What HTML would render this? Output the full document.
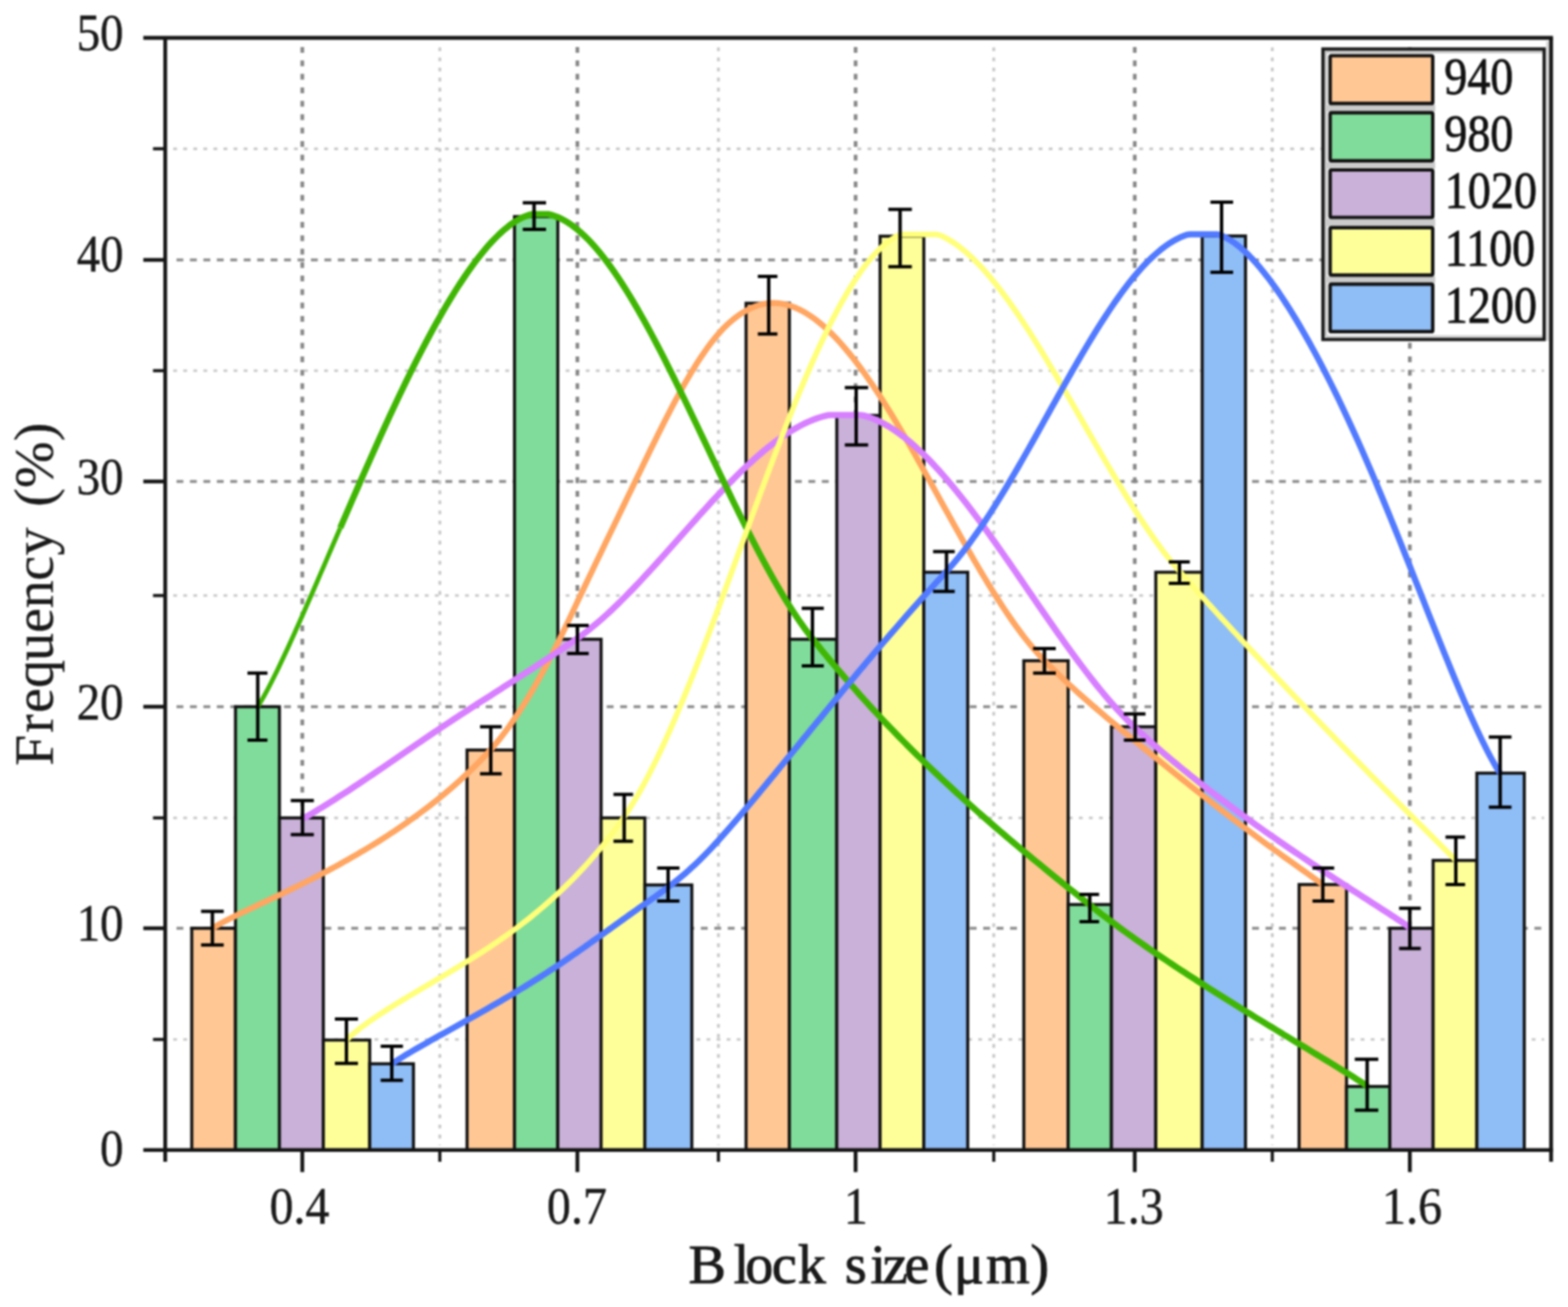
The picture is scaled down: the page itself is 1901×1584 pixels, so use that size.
<!DOCTYPE html>
<html lang="en">
<head>
<meta charset="utf-8">
<title>Block size frequency chart</title>
<style>
html,body{margin:0;padding:0;background:#fff;}
body{width:1901px;height:1584px;}
svg{display:block;}
</style>
</head>
<body>
<svg width="1901" height="1584" viewBox="0 0 1901 1584">
<defs><filter id="soft" x="0" y="0" width="1901" height="1584" filterUnits="userSpaceOnUse" color-interpolation-filters="sRGB"><feGaussianBlur stdDeviation="0.9"/></filter></defs>
<g filter="url(#soft)">
<rect x="-10" y="-10" width="1921" height="1604" fill="#fff"/>
<g fill="none">
<line x1="210" y1="1259.75" x2="1872" y2="1259.75" stroke="#c8c8c8" stroke-width="3.2" stroke-dasharray="4.6 7.6"/>
<line x1="210" y1="991.25" x2="1872" y2="991.25" stroke="#c8c8c8" stroke-width="3.2" stroke-dasharray="4.6 7.6"/>
<line x1="210" y1="721.75" x2="1872" y2="721.75" stroke="#c8c8c8" stroke-width="3.2" stroke-dasharray="4.6 7.6"/>
<line x1="210" y1="449.25" x2="1872" y2="449.25" stroke="#c8c8c8" stroke-width="3.2" stroke-dasharray="4.6 7.6"/>
<line x1="210" y1="180.3" x2="1872" y2="180.3" stroke="#c8c8c8" stroke-width="3.2" stroke-dasharray="4.6 7.6"/>
<line x1="533.25" y1="57.5" x2="533.25" y2="1388" stroke="#c8c8c8" stroke-width="3.4" stroke-dasharray="4.6 7.6"/>
<line x1="871" y1="57.5" x2="871" y2="1388" stroke="#c8c8c8" stroke-width="3.4" stroke-dasharray="4.6 7.6"/>
<line x1="1204.8" y1="57.5" x2="1204.8" y2="1388" stroke="#c8c8c8" stroke-width="3.4" stroke-dasharray="4.6 7.6"/>
<line x1="1542.5" y1="57.5" x2="1542.5" y2="1388" stroke="#c8c8c8" stroke-width="3.4" stroke-dasharray="4.6 7.6"/>
<line x1="214" y1="1125" x2="1872" y2="1125" stroke="#8c8c8c" stroke-width="3.3" stroke-dasharray="8.3 8"/>
<line x1="214" y1="856.5" x2="1872" y2="856.5" stroke="#8c8c8c" stroke-width="3.3" stroke-dasharray="8.3 8"/>
<line x1="214" y1="583.5" x2="1872" y2="583.5" stroke="#8c8c8c" stroke-width="3.3" stroke-dasharray="8.3 8"/>
<line x1="214" y1="315" x2="1872" y2="315" stroke="#8c8c8c" stroke-width="3.3" stroke-dasharray="8.3 8"/>
<line x1="366.5" y1="57" x2="366.5" y2="1388" stroke="#868686" stroke-width="4.4" stroke-dasharray="7 9.3"/>
<line x1="700" y1="57" x2="700" y2="1388" stroke="#868686" stroke-width="4.4" stroke-dasharray="7 9.3"/>
<line x1="1037.3" y1="57" x2="1037.3" y2="1388" stroke="#868686" stroke-width="4.4" stroke-dasharray="7 9.3"/>
<line x1="1375.75" y1="57" x2="1375.75" y2="1388" stroke="#868686" stroke-width="4.4" stroke-dasharray="7 9.3"/>
<line x1="1709.25" y1="57" x2="1709.25" y2="1388" stroke="#868686" stroke-width="4.4" stroke-dasharray="7 9.3"/>
</g>
<g stroke="#111" stroke-width="3.7" stroke-linejoin="miter">
<rect x="232.5" y="1125" width="53.00" height="268.75" fill="#FFC794"/>
<rect x="285.5" y="856.5" width="53.25" height="537.25" fill="#80DC9A"/>
<rect x="338.75" y="991.25" width="53.25" height="402.50" fill="#C9B1D9"/>
<rect x="392" y="1260.5" width="56.25" height="133.25" fill="#FFFF99"/>
<rect x="448.25" y="1289.25" width="53.00" height="104.50" fill="#8FBDF6"/>
<rect x="566.25" y="909" width="57.50" height="484.75" fill="#FFC794"/>
<rect x="623.75" y="262.5" width="52.50" height="1131.25" fill="#80DC9A"/>
<rect x="676.25" y="774.75" width="52.50" height="619.00" fill="#C9B1D9"/>
<rect x="728.75" y="991.25" width="53.00" height="402.50" fill="#FFFF99"/>
<rect x="781.75" y="1072.5" width="57.00" height="321.25" fill="#8FBDF6"/>
<rect x="904.5" y="367.5" width="52.50" height="1026.25" fill="#FFC794"/>
<rect x="957" y="774.75" width="57.50" height="619.00" fill="#80DC9A"/>
<rect x="1014.5" y="503.5" width="52.50" height="890.25" fill="#C9B1D9"/>
<rect x="1067" y="286.25" width="53.00" height="1107.50" fill="#FFFF99"/>
<rect x="1120" y="693.5" width="53.25" height="700.25" fill="#8FBDF6"/>
<rect x="1241.25" y="800.75" width="53.75" height="593.00" fill="#FFC794"/>
<rect x="1295" y="1096.25" width="52.50" height="297.50" fill="#80DC9A"/>
<rect x="1347.5" y="880.75" width="53.75" height="513.00" fill="#C9B1D9"/>
<rect x="1401.25" y="693.5" width="56.25" height="700.25" fill="#FFFF99"/>
<rect x="1457.5" y="286" width="52.50" height="1107.75" fill="#8FBDF6"/>
<rect x="1575" y="1072" width="57.50" height="321.75" fill="#FFC794"/>
<rect x="1632.5" y="1316.75" width="52.50" height="77.00" fill="#80DC9A"/>
<rect x="1685" y="1125" width="52.50" height="268.75" fill="#C9B1D9"/>
<rect x="1737.5" y="1042.75" width="53.00" height="351.00" fill="#FFFF99"/>
<rect x="1790.5" y="937" width="57.50" height="456.75" fill="#8FBDF6"/>
</g>
<g fill="none" stroke-linejoin="round" stroke-linecap="butt">
<path d="M257.5,1125.0 L261.5,1122.6 L265.5,1120.3 L269.5,1118.1 L273.5,1116.0 L277.5,1114.0 L281.5,1111.9 L285.5,1110.0 L289.5,1108.0 L293.5,1106.1 L297.5,1104.2 L301.5,1102.3 L305.5,1100.4 L309.5,1098.5 L313.5,1096.6 L317.5,1094.7 L321.5,1092.9 L325.5,1091.0 L329.5,1089.1 L333.5,1087.2 L337.5,1085.3 L341.5,1083.4 L345.5,1081.4 L349.5,1079.5 L353.5,1077.5 L357.5,1075.6 L361.5,1073.6 L365.5,1071.6 L369.5,1069.6 L373.5,1067.6 L377.5,1065.6 L381.5,1063.5 L385.5,1061.5 L389.5,1059.4 L393.5,1057.3 L397.5,1055.2 L401.5,1053.0 L405.5,1050.8 L409.5,1048.7 L413.5,1046.5 L417.5,1044.2 L421.5,1042.0 L425.5,1039.7 L429.5,1037.4 L433.5,1035.1 L437.5,1032.7 L441.5,1030.4 L445.5,1028.0 L449.5,1025.5 L453.5,1023.1 L457.5,1020.6 L461.5,1018.1 L465.5,1015.5 L469.5,1012.9 L473.5,1010.3 L477.5,1007.7 L481.5,1005.0 L485.5,1002.3 L489.5,999.5 L493.5,996.7 L497.5,993.9 L501.5,991.0 L505.5,988.1 L509.5,985.2 L513.5,982.2 L517.5,979.2 L521.5,976.1 L525.5,972.9 L529.5,969.8 L533.5,966.5 L537.5,963.2 L541.5,959.9 L545.5,956.5 L549.5,953.0 L553.5,949.5 L557.5,945.9 L561.5,942.2 L565.5,938.5 L569.5,934.7 L573.5,930.8 L577.5,926.8 L581.5,922.8 L585.5,918.6 L589.5,914.4 L593.5,910.0 L597.5,905.5 L601.5,900.9 L605.5,896.0 L609.5,890.9 L613.5,885.6 L617.5,880.1 L621.5,874.4 L625.5,868.5 L629.5,862.5 L633.5,856.3 L637.5,849.9 L641.5,843.3 L645.5,836.6 L649.5,829.7 L653.5,822.6 L657.5,815.4 L661.5,808.0 L665.5,800.4 L669.5,792.6 L673.5,784.7 L677.5,776.6 L681.5,768.4 L685.5,760.1 L689.5,751.7 L693.5,743.2 L697.5,734.8 L701.5,726.3 L705.5,717.9 L709.5,709.4 L713.5,701.0 L717.5,692.7 L721.5,684.3 L725.5,676.0 L729.5,667.7 L733.5,659.3 L737.5,651.0 L741.5,642.7 L745.5,634.5 L749.5,626.2 L753.5,617.9 L757.5,609.6 L761.5,601.3 L765.5,593.1 L769.5,584.8 L773.5,576.5 L777.5,568.2 L781.5,559.9 L785.5,551.6 L789.5,543.4 L793.5,535.3 L797.5,527.2 L801.5,519.1 L805.5,511.2 L809.5,503.4 L813.5,495.6 L817.5,488.0 L821.5,480.6 L825.5,473.3 L829.5,466.1 L833.5,459.2 L837.5,452.4 L841.5,445.8 L845.5,439.4 L849.5,433.3 L853.5,427.4 L857.5,421.7 L861.5,416.3 L865.5,411.2 L869.5,406.3 L873.5,401.8 L877.5,397.5 L881.5,393.6 L885.5,390.0 L889.5,386.7 L893.5,383.6 L897.5,380.8 L901.5,378.3 L905.5,376.0 L909.5,374.0 L913.5,372.2 L917.5,370.7 L921.5,369.4 L925.5,368.5 L929.5,367.8 L933.5,367.3 L937.5,367.2 L941.5,367.3 L945.5,367.7 L949.5,368.4 L953.5,369.3 L957.5,370.4 L961.5,371.8 L965.5,373.4 L969.5,375.3 L973.5,377.4 L977.5,379.7 L981.5,382.2 L985.5,384.9 L989.5,387.9 L993.5,391.1 L997.5,394.4 L1001.5,398.0 L1005.5,401.8 L1009.5,405.7 L1013.5,409.8 L1017.5,414.1 L1021.5,418.6 L1025.5,423.3 L1029.5,428.1 L1033.5,433.1 L1037.5,438.2 L1041.5,443.5 L1045.5,448.9 L1049.5,454.5 L1053.5,460.2 L1057.5,466.0 L1061.5,472.0 L1065.5,478.1 L1069.5,484.3 L1073.5,490.6 L1077.5,497.0 L1081.5,503.5 L1085.5,510.1 L1089.5,516.8 L1093.5,523.6 L1097.5,530.4 L1101.5,537.3 L1105.5,544.3 L1109.5,551.3 L1113.5,558.4 L1117.5,565.5 L1121.5,572.7 L1125.5,579.8 L1129.5,587.0 L1133.5,594.2 L1137.5,601.5 L1141.5,608.7 L1145.5,615.9 L1149.5,623.1 L1153.5,630.3 L1157.5,637.5 L1161.5,644.6 L1165.5,651.7 L1169.5,658.8 L1173.5,665.8 L1177.5,672.8 L1181.5,679.7 L1185.5,686.5 L1189.5,693.3 L1193.5,700.0 L1197.5,706.6 L1201.5,713.1 L1205.5,719.5 L1209.5,725.8 L1213.5,732.0 L1217.5,738.1 L1221.5,744.1 L1225.5,749.9 L1229.5,755.6 L1233.5,761.1 L1237.5,766.5 L1241.5,771.8 L1245.5,776.9 L1249.5,781.8 L1253.5,786.6 L1257.5,791.2 L1261.5,795.6 L1265.5,799.8 L1269.5,803.9 L1273.5,807.9 L1277.5,811.8 L1281.5,815.7 L1285.5,819.5 L1289.5,823.3 L1293.5,827.1 L1297.5,830.8 L1301.5,834.4 L1305.5,838.1 L1309.5,841.7 L1313.5,845.2 L1317.5,848.7 L1321.5,852.2 L1325.5,855.7 L1329.5,859.2 L1333.5,862.6 L1337.5,866.0 L1341.5,869.4 L1345.5,872.7 L1349.5,876.1 L1353.5,879.4 L1357.5,882.8 L1361.5,886.1 L1365.5,889.4 L1369.5,892.7 L1373.5,896.0 L1377.5,899.2 L1381.5,902.5 L1385.5,905.8 L1389.5,909.1 L1393.5,912.3 L1397.5,915.6 L1401.5,918.8 L1405.5,922.1 L1409.5,925.3 L1413.5,928.5 L1417.5,931.8 L1421.5,935.0 L1425.5,938.2 L1429.5,941.4 L1433.5,944.6 L1437.5,947.8 L1441.5,951.0 L1445.5,954.2 L1449.5,957.3 L1453.5,960.5 L1457.5,963.7 L1461.5,966.8 L1465.5,969.9 L1469.5,973.1 L1473.5,976.2 L1477.5,979.3 L1481.5,982.4 L1485.5,985.5 L1489.5,988.5 L1493.5,991.6 L1497.5,994.6 L1501.5,997.7 L1505.5,1000.7 L1509.5,1003.7 L1513.5,1006.7 L1517.5,1009.7 L1521.5,1012.7 L1525.5,1015.7 L1529.5,1018.6 L1533.5,1021.6 L1537.5,1024.5 L1541.5,1027.4 L1545.5,1030.3 L1549.5,1033.2 L1553.5,1036.1 L1557.5,1039.0 L1561.5,1041.8 L1565.5,1044.7 L1569.5,1047.5 L1573.5,1050.4 L1577.5,1053.2 L1581.5,1056.0 L1585.5,1058.9 L1589.5,1061.7 L1593.5,1064.6 L1597.5,1067.5 L1601.5,1070.4 L1603.8,1072.0" stroke="#FFA662" stroke-width="7.2"/>
<path d="M366.8,991.2 L370.8,990.2 L374.8,987.9 L378.8,985.5 L382.8,983.1 L386.8,980.6 L390.8,978.2 L394.8,975.7 L398.8,973.2 L402.8,970.7 L406.8,968.2 L410.8,965.6 L414.8,963.1 L418.8,960.5 L422.8,957.9 L426.8,955.2 L430.8,952.6 L434.8,950.0 L438.8,947.3 L442.8,944.6 L446.8,941.9 L450.8,939.2 L454.8,936.5 L458.8,933.8 L462.8,931.1 L466.8,928.3 L470.8,925.6 L474.8,922.9 L478.8,920.1 L482.8,917.4 L486.8,914.6 L490.8,911.9 L494.8,909.1 L498.8,906.4 L502.8,903.6 L506.8,900.9 L510.8,898.2 L514.8,895.4 L518.8,892.7 L522.8,890.0 L526.8,887.3 L530.8,884.6 L534.8,881.9 L538.8,879.3 L542.8,876.6 L546.8,874.0 L550.8,871.3 L554.8,868.7 L558.8,866.1 L562.8,863.5 L566.8,860.9 L570.8,858.3 L574.8,855.7 L578.8,853.1 L582.8,850.6 L586.8,848.0 L590.8,845.4 L594.8,842.9 L598.8,840.3 L602.8,837.7 L606.8,835.2 L610.8,832.6 L614.8,830.0 L618.8,827.5 L622.8,824.9 L626.8,822.3 L630.8,819.8 L634.8,817.2 L638.8,814.6 L642.8,812.0 L646.8,809.4 L650.8,806.8 L654.8,804.2 L658.8,801.6 L662.8,798.9 L666.8,796.3 L670.8,793.6 L674.8,790.9 L678.8,788.2 L682.8,785.5 L686.8,782.8 L690.8,780.1 L694.8,777.3 L698.8,774.5 L702.8,771.7 L706.8,768.8 L710.8,765.7 L714.8,762.6 L718.8,759.3 L722.8,756.0 L726.8,752.6 L730.8,749.1 L734.8,745.5 L738.8,741.8 L742.8,738.1 L746.8,734.2 L750.8,730.4 L754.8,726.4 L758.8,722.4 L762.8,718.3 L766.8,714.2 L770.8,710.0 L774.8,705.8 L778.8,701.5 L782.8,697.2 L786.8,692.9 L790.8,688.5 L794.8,684.1 L798.8,679.7 L802.8,675.2 L806.8,670.7 L810.8,666.2 L814.8,661.7 L818.8,657.2 L822.8,652.7 L826.8,648.2 L830.8,643.7 L834.8,639.2 L838.8,634.7 L842.8,630.3 L846.8,625.8 L850.8,621.4 L854.8,617.0 L858.8,612.6 L862.8,608.2 L866.8,603.9 L870.8,599.7 L874.8,595.4 L878.8,591.2 L882.8,587.1 L886.8,583.0 L890.8,579.0 L894.8,575.0 L898.8,571.1 L902.8,567.3 L906.8,563.5 L910.8,559.8 L914.8,556.2 L918.8,552.6 L922.8,549.2 L926.8,545.8 L930.8,542.6 L934.8,539.4 L938.8,536.3 L942.8,533.3 L946.8,530.5 L950.8,527.7 L954.8,525.0 L958.8,522.5 L962.8,520.1 L966.8,517.8 L970.8,515.7 L974.8,513.6 L978.8,511.7 L982.8,510.0 L986.8,508.4 L990.8,506.9 L994.8,505.6 L998.8,504.4 L1002.8,503.4 L1006.8,503.0 L1010.8,503.0 L1014.8,503.0 L1018.8,503.0 L1022.8,503.0 L1026.8,503.0 L1030.8,503.0 L1034.8,503.0 L1038.8,503.0 L1042.8,503.0 L1046.8,503.5 L1050.8,504.7 L1054.8,506.0 L1058.8,507.5 L1062.8,509.2 L1066.8,511.1 L1070.8,513.1 L1074.8,515.4 L1078.8,517.7 L1082.8,520.3 L1086.8,523.0 L1090.8,525.8 L1094.8,528.8 L1098.8,532.0 L1102.8,535.3 L1106.8,538.7 L1110.8,542.3 L1114.8,546.0 L1118.8,549.8 L1122.8,553.7 L1126.8,557.8 L1130.8,562.0 L1134.8,566.3 L1138.8,570.7 L1142.8,575.2 L1146.8,579.7 L1150.8,584.4 L1154.8,589.2 L1158.8,594.1 L1162.8,599.1 L1166.8,604.1 L1170.8,609.2 L1174.8,614.4 L1178.8,619.6 L1182.8,625.0 L1186.8,630.3 L1190.8,635.8 L1194.8,641.3 L1198.8,646.8 L1202.8,652.4 L1206.8,658.0 L1210.8,663.7 L1214.8,669.4 L1218.8,675.1 L1222.8,680.8 L1226.8,686.6 L1230.8,692.4 L1234.8,698.2 L1238.8,704.0 L1242.8,709.9 L1246.8,715.7 L1250.8,721.5 L1254.8,727.4 L1258.8,733.2 L1262.8,739.0 L1266.8,744.8 L1270.8,750.5 L1274.8,756.3 L1278.8,762.0 L1282.8,767.7 L1286.8,773.3 L1290.8,778.9 L1294.8,784.5 L1298.8,790.0 L1302.8,795.5 L1306.8,800.9 L1310.8,806.2 L1314.8,811.5 L1318.8,816.8 L1322.8,821.9 L1326.8,827.0 L1330.8,832.0 L1334.8,836.9 L1338.8,841.7 L1342.8,846.5 L1346.8,851.1 L1350.8,855.6 L1354.8,860.1 L1358.8,864.4 L1362.8,868.6 L1366.8,872.7 L1370.8,876.7 L1374.8,880.6 L1378.8,884.3 L1382.8,888.0 L1386.8,891.7 L1390.8,895.3 L1394.8,898.9 L1398.8,902.4 L1402.8,905.9 L1406.8,909.4 L1410.8,912.9 L1414.8,916.3 L1418.8,919.6 L1422.8,923.0 L1426.8,926.3 L1430.8,929.6 L1434.8,932.9 L1438.8,936.1 L1442.8,939.4 L1446.8,942.6 L1450.8,945.7 L1454.8,948.9 L1458.8,952.0 L1462.8,955.1 L1466.8,958.2 L1470.8,961.3 L1474.8,964.4 L1478.8,967.4 L1482.8,970.4 L1486.8,973.4 L1490.8,976.4 L1494.8,979.4 L1498.8,982.3 L1502.8,985.3 L1506.8,988.2 L1510.8,991.1 L1514.8,994.0 L1518.8,996.9 L1522.8,999.8 L1526.8,1002.6 L1530.8,1005.5 L1534.8,1008.3 L1538.8,1011.1 L1542.8,1013.9 L1546.8,1016.7 L1550.8,1019.5 L1554.8,1022.2 L1558.8,1025.0 L1562.8,1027.7 L1566.8,1030.5 L1570.8,1033.2 L1574.8,1035.9 L1578.8,1038.6 L1582.8,1041.3 L1586.8,1044.0 L1590.8,1046.7 L1594.8,1049.3 L1598.8,1052.0 L1602.8,1054.6 L1606.8,1057.3 L1610.8,1059.9 L1614.8,1062.5 L1618.8,1065.2 L1622.8,1067.8 L1626.8,1070.4 L1630.8,1073.0 L1634.8,1075.6 L1638.8,1078.2 L1642.8,1080.8 L1646.8,1083.3 L1650.8,1085.9 L1654.8,1088.5 L1658.8,1091.1 L1662.8,1093.7 L1666.8,1096.2 L1670.8,1098.8 L1674.8,1101.4 L1678.8,1104.0 L1682.8,1106.6 L1686.8,1109.2 L1690.8,1111.8 L1694.8,1114.5 L1698.8,1117.1 L1702.8,1119.8 L1706.8,1122.6 L1709.2,1125.0" stroke="#D77FFF" stroke-width="7.7"/>
<path d="M312.5,856.5 L316.5,849.9 L320.5,842.9 L324.5,835.5 L328.5,827.8 L332.5,819.8 L336.5,811.7 L340.5,803.3 L344.5,794.8 L348.5,786.2 L352.5,777.4 L356.5,768.6 L360.5,759.6 L364.5,750.6 L368.5,741.6 L372.5,732.4 L376.5,723.3 L380.5,714.1 L384.5,704.8 L388.5,695.5 L392.5,686.3 L396.5,677.0 L400.5,667.7 L404.5,658.4 L408.5,649.1 L412.5,639.8" stroke="#40B604" stroke-width="5.6"/>
<path d="M412.5,639.8 L416.5,630.5 L420.5,621.2 L424.5,612.0 L428.5,602.8 L432.5,593.6 L436.5,584.4 L440.5,575.3 L444.5,566.2 L448.5,557.2 L452.5,548.2 L456.5,539.3 L460.5,530.4 L464.5,521.6 L468.5,512.9 L472.5,504.2 L476.5,495.6 L480.5,487.1 L484.5,478.7 L488.5,470.3 L492.5,462.0 L496.5,453.9 L500.5,445.8 L504.5,437.8 L508.5,430.0 L512.5,422.2 L516.5,414.6 L520.5,407.1 L524.5,399.7 L528.5,392.4 L532.5,385.3 L536.5,378.3 L540.5,371.4 L544.5,364.7 L548.5,358.2 L552.5,351.8 L556.5,345.5 L560.5,339.5 L564.5,333.5 L568.5,327.8 L572.5,322.2 L576.5,316.8 L580.5,311.6 L584.5,306.6 L588.5,301.8 L592.5,297.1 L596.5,292.7 L600.5,288.6 L604.5,284.6 L608.5,280.9 L612.5,277.4 L616.5,274.2 L620.5,271.2 L624.5,268.5 L628.5,266.1 L632.5,264.0 L636.5,262.3 L640.5,260.8 L644.5,259.7 L648.5,259.5 L652.5,259.5 L656.5,259.5 L660.5,259.5 L664.5,259.5 L668.5,260.5 L672.5,261.8 L676.5,263.3 L680.5,265.2 L684.5,267.3 L688.5,269.7 L692.5,272.4 L696.5,275.4 L700.5,278.6 L704.5,282.1 L708.5,285.8 L712.5,289.7 L716.5,293.9 L720.5,298.3 L724.5,303.0 L728.5,307.8 L732.5,312.9 L736.5,318.2 L740.5,323.6 L744.5,329.3 L748.5,335.1 L752.5,341.2 L756.5,347.4 L760.5,353.7 L764.5,360.3 L768.5,367.0 L772.5,373.8 L776.5,380.8 L780.5,387.9 L784.5,395.2 L788.5,402.5 L792.5,410.0 L796.5,417.6 L800.5,425.3 L804.5,433.1 L808.5,441.0 L812.5,448.9 L816.5,457.0 L820.5,465.1 L824.5,473.2 L828.5,481.4 L832.5,489.7 L836.5,498.0 L840.5,506.4 L844.5,514.7 L848.5,523.1 L852.5,531.5 L856.5,539.9 L860.5,548.4 L864.5,556.8 L868.5,565.2 L872.5,573.6 L876.5,581.9 L880.5,590.2 L884.5,598.5 L888.5,606.8 L892.5,614.9 L896.5,623.1 L900.5,631.1 L904.5,639.1 L908.5,647.0 L912.5,654.8 L916.5,662.6 L920.5,670.2 L924.5,677.7 L928.5,685.1 L932.5,692.4 L936.5,699.6 L940.5,706.6 L944.5,713.5 L948.5,720.3 L952.5,726.9 L956.5,733.3 L960.5,739.6 L964.5,745.7 L968.5,751.6 L972.5,757.3 L976.5,762.9 L980.5,768.2 L984.5,773.4 L988.5,778.4 L992.5,783.3 L996.5,788.3 L1000.5,793.1 L1004.5,798.0 L1008.5,802.8 L1012.5,807.5 L1016.5,812.3 L1020.5,816.9 L1024.5,821.6 L1028.5,826.2 L1032.5,830.8 L1036.5,835.3 L1040.5,839.9 L1044.5,844.3 L1048.5,848.8 L1052.5,853.2 L1056.5,857.6 L1060.5,861.9 L1064.5,866.2 L1068.5,870.5 L1072.5,874.8 L1076.5,879.0 L1080.5,883.2 L1084.5,887.3 L1088.5,891.5 L1092.5,895.6 L1096.5,899.6 L1100.5,903.7 L1104.5,907.7 L1108.5,911.7 L1112.5,915.7 L1116.5,919.6 L1120.5,923.5 L1124.5,927.4 L1128.5,931.3 L1132.5,935.1 L1136.5,938.9 L1140.5,942.7 L1144.5,946.5 L1148.5,950.2 L1152.5,953.9 L1156.5,957.6 L1160.5,961.3 L1164.5,965.0 L1168.5,968.6 L1172.5,972.2 L1176.5,975.8 L1180.5,979.4 L1184.5,983.0 L1188.5,986.5 L1192.5,990.0 L1196.5,993.5 L1200.5,997.0 L1204.5,1000.5 L1208.5,1004.0 L1212.5,1007.4 L1216.5,1010.8 L1220.5,1014.2 L1224.5,1017.6 L1228.5,1021.0 L1232.5,1024.4 L1236.5,1027.7 L1240.5,1031.1 L1244.5,1034.4 L1248.5,1037.7 L1252.5,1041.1 L1256.5,1044.4 L1260.5,1047.6 L1264.5,1050.9 L1268.5,1054.2 L1272.5,1057.5 L1276.5,1060.7 L1280.5,1064.0 L1284.5,1067.2 L1288.5,1070.4 L1292.5,1073.7 L1296.5,1076.9 L1300.5,1080.1 L1304.5,1083.3 L1308.5,1086.5 L1312.5,1089.7 L1316.5,1092.9 L1320.5,1096.1 L1324.5,1099.3 L1328.5,1102.5 L1332.5,1105.6 L1336.5,1108.7 L1340.5,1111.7 L1344.5,1114.7 L1348.5,1117.7 L1352.5,1120.7 L1356.5,1123.7 L1360.5,1126.6 L1364.5,1129.5 L1368.5,1132.4 L1372.5,1135.2 L1376.5,1138.1 L1380.5,1140.9 L1384.5,1143.7 L1388.5,1146.5 L1392.5,1149.3 L1396.5,1152.0 L1400.5,1154.8 L1404.5,1157.5 L1408.5,1160.2 L1412.5,1162.9 L1416.5,1165.6 L1420.5,1168.3 L1424.5,1170.9 L1428.5,1173.6 L1432.5,1176.2 L1436.5,1178.8 L1440.5,1181.4 L1444.5,1184.0 L1448.5,1186.6 L1452.5,1189.2 L1456.5,1191.8 L1460.5,1194.3 L1464.5,1196.9 L1468.5,1199.4 L1472.5,1202.0 L1476.5,1204.5 L1480.5,1207.0 L1484.5,1209.6 L1488.5,1212.1 L1492.5,1214.6 L1496.5,1217.1 L1500.5,1219.5 L1504.5,1222.0 L1508.5,1224.5 L1512.5,1227.0 L1516.5,1229.4 L1520.5,1231.9 L1524.5,1234.4 L1528.5,1236.8 L1532.5,1239.3 L1536.5,1241.7 L1540.5,1244.1 L1544.5,1246.6 L1548.5,1249.0 L1552.5,1251.4 L1556.5,1253.9 L1560.5,1256.3 L1564.5,1258.7 L1568.5,1261.2 L1572.5,1263.6 L1576.5,1266.0 L1580.5,1268.4 L1584.5,1270.8 L1588.5,1273.3 L1592.5,1275.7 L1596.5,1278.1 L1600.5,1280.5 L1604.5,1283.0 L1608.5,1285.4 L1612.5,1287.8 L1616.5,1290.3 L1620.5,1292.7 L1624.5,1295.2 L1628.5,1297.7 L1632.5,1300.1 L1636.5,1302.6 L1640.5,1305.1 L1644.5,1307.7 L1648.5,1310.2 L1652.5,1312.8 L1656.5,1315.4 L1657.5,1316.8" stroke="#40B604" stroke-width="7.7"/>
<path d="M420.0,1260.5 L424.0,1256.5 L428.0,1253.1 L432.0,1249.8 L436.0,1246.6 L440.0,1243.6 L444.0,1240.7 L448.0,1237.8 L452.0,1235.1 L456.0,1232.3 L460.0,1229.7 L464.0,1227.0 L468.0,1224.5 L472.0,1221.9 L476.0,1219.4 L480.0,1216.9 L484.0,1214.5 L488.0,1212.0 L492.0,1209.6 L496.0,1207.2 L500.0,1204.8 L504.0,1202.5 L508.0,1200.1 L512.0,1197.7 L516.0,1195.4 L520.0,1193.0 L524.0,1190.6 L528.0,1188.3 L532.0,1185.9 L536.0,1183.6 L540.0,1181.2 L544.0,1178.8 L548.0,1176.4 L552.0,1174.0 L556.0,1171.6 L560.0,1169.1 L564.0,1166.7 L568.0,1164.2 L572.0,1161.7 L576.0,1159.2 L580.0,1156.6 L584.0,1154.1 L588.0,1151.4 L592.0,1148.8 L596.0,1146.1 L600.0,1143.4 L604.0,1140.7 L608.0,1137.9 L612.0,1135.1 L616.0,1132.3 L620.0,1129.4 L624.0,1126.4 L628.0,1123.4 L632.0,1120.4 L636.0,1117.3 L640.0,1114.2 L644.0,1111.0 L648.0,1107.7 L652.0,1104.4 L656.0,1101.0 L660.0,1097.6 L664.0,1094.1 L668.0,1090.6 L672.0,1086.9 L676.0,1083.3 L680.0,1079.5 L684.0,1075.7 L688.0,1071.8 L692.0,1067.8 L696.0,1063.8 L700.0,1059.6 L704.0,1055.4 L708.0,1051.1 L712.0,1046.7 L716.0,1042.2 L720.0,1037.6 L724.0,1032.9 L728.0,1028.1 L732.0,1023.2 L736.0,1018.2 L740.0,1013.0 L744.0,1007.7 L748.0,1002.3 L752.0,996.7 L756.0,991.0 L760.0,985.1 L764.0,978.9 L768.0,972.4 L772.0,965.7 L776.0,958.7 L780.0,951.5 L784.0,944.0 L788.0,936.3 L792.0,928.3 L796.0,920.2 L800.0,911.8 L804.0,903.2 L808.0,894.4 L812.0,885.5 L816.0,876.3 L820.0,867.0 L824.0,857.5 L828.0,847.9 L832.0,838.1 L836.0,828.2 L840.0,818.2 L844.0,808.0 L848.0,797.8 L852.0,787.4 L856.0,776.9 L860.0,766.4 L864.0,755.7 L868.0,745.0 L872.0,734.2 L876.0,723.4 L880.0,712.5 L884.0,701.6 L888.0,690.7 L892.0,679.7 L896.0,668.7 L900.0,657.8 L904.0,646.8 L908.0,635.8 L912.0,624.9 L916.0,614.0 L920.0,603.1 L924.0,592.3 L928.0,581.5 L932.0,570.8 L936.0,560.1 L940.0,549.6 L944.0,539.1 L948.0,528.7 L952.0,518.4 L956.0,508.3 L960.0,498.2 L964.0,488.3 L968.0,478.5 L972.0,468.9 L976.0,459.4 L980.0,450.1 L984.0,440.9 L988.0,431.9 L992.0,423.1 L996.0,414.5 L1000.0,406.1 L1004.0,397.8 L1008.0,389.8 L1012.0,382.1 L1016.0,374.5 L1020.0,367.2 L1024.0,360.1 L1028.0,353.3 L1032.0,346.7 L1036.0,340.4 L1040.0,334.4 L1044.0,328.6 L1048.0,323.1 L1052.0,318.0 L1056.0,313.1 L1060.0,308.5 L1064.0,304.3 L1068.0,300.3 L1072.0,296.7 L1076.0,293.5 L1080.0,290.6 L1084.0,288.0 L1088.0,285.8 L1092.0,284.2 L1096.0,284.2 L1100.0,284.2 L1104.0,284.2 L1108.0,284.2 L1112.0,284.2 L1116.0,284.2 L1120.0,284.2 L1124.0,284.2 L1128.0,284.2 L1132.0,284.2 L1136.0,284.2 L1140.0,285.2 L1144.0,287.1 L1148.0,289.2 L1152.0,291.5 L1156.0,294.0 L1160.0,296.8 L1164.0,299.8 L1168.0,303.0 L1172.0,306.4 L1176.0,310.0 L1180.0,313.8 L1184.0,317.8 L1188.0,321.9 L1192.0,326.3 L1196.0,330.8 L1200.0,335.4 L1204.0,340.3 L1208.0,345.2 L1212.0,350.4 L1216.0,355.7 L1220.0,361.1 L1224.0,366.6 L1228.0,372.3 L1232.0,378.0 L1236.0,383.9 L1240.0,389.9 L1244.0,396.0 L1248.0,402.2 L1252.0,408.5 L1256.0,414.9 L1260.0,421.4 L1264.0,427.9 L1268.0,434.5 L1272.0,441.2 L1276.0,447.9 L1280.0,454.6 L1284.0,461.5 L1288.0,468.3 L1292.0,475.2 L1296.0,482.1 L1300.0,489.1 L1304.0,496.0 L1308.0,503.0 L1312.0,510.0 L1316.0,517.0 L1320.0,524.0 L1324.0,530.9 L1328.0,537.9 L1332.0,544.8 L1336.0,551.7 L1340.0,558.6 L1344.0,565.4 L1348.0,572.2 L1352.0,579.0 L1356.0,585.7 L1360.0,592.3 L1364.0,598.9 L1368.0,605.4 L1372.0,611.8 L1376.0,618.1 L1380.0,624.3 L1384.0,630.5 L1388.0,636.5 L1392.0,642.5 L1396.0,648.3 L1400.0,654.0 L1404.0,659.6 L1408.0,665.0 L1412.0,670.4 L1416.0,675.5 L1420.0,680.6 L1424.0,685.4 L1428.0,690.1 L1432.0,694.7 L1436.0,699.2 L1440.0,703.7 L1444.0,708.2 L1448.0,712.7 L1452.0,717.2 L1456.0,721.6 L1460.0,726.1 L1464.0,730.5 L1468.0,734.9 L1472.0,739.3 L1476.0,743.7 L1480.0,748.1 L1484.0,752.4 L1488.0,756.8 L1492.0,761.1 L1496.0,765.5 L1500.0,769.8 L1504.0,774.1 L1508.0,778.5 L1512.0,782.8 L1516.0,787.1 L1520.0,791.4 L1524.0,795.6 L1528.0,799.9 L1532.0,804.2 L1536.0,808.4 L1540.0,812.7 L1544.0,816.9 L1548.0,821.2 L1552.0,825.4 L1556.0,829.6 L1560.0,833.8 L1564.0,838.1 L1568.0,842.3 L1572.0,846.5 L1576.0,850.6 L1580.0,854.8 L1584.0,859.0 L1588.0,863.2 L1592.0,867.3 L1596.0,871.5 L1600.0,875.7 L1604.0,879.8 L1608.0,883.9 L1612.0,888.1 L1616.0,892.2 L1620.0,896.3 L1624.0,900.5 L1628.0,904.6 L1632.0,908.7 L1636.0,912.8 L1640.0,916.9 L1644.0,921.0 L1648.0,925.0 L1652.0,929.1 L1656.0,933.2 L1660.0,937.3 L1664.0,941.3 L1668.0,945.4 L1672.0,949.4 L1676.0,953.5 L1680.0,957.5 L1684.0,961.5 L1688.0,965.6 L1692.0,969.6 L1696.0,973.6 L1700.0,977.6 L1704.0,981.7 L1708.0,985.7 L1712.0,989.7 L1716.0,993.7 L1720.0,997.7 L1724.0,1001.7 L1728.0,1005.7 L1732.0,1009.7 L1736.0,1013.7 L1740.0,1017.6 L1744.0,1021.6 L1748.0,1025.6 L1752.0,1029.6 L1756.0,1033.6 L1760.0,1037.7 L1764.0,1041.7 L1765.0,1042.8" stroke="#FFFF7A" stroke-width="6.8"/>
<path d="M475.0,1289.2 L479.0,1286.6 L483.0,1284.1 L487.0,1281.6 L491.0,1279.1 L495.0,1276.8 L499.0,1274.4 L503.0,1272.1 L507.0,1269.7 L511.0,1267.4 L515.0,1265.2 L519.0,1262.9 L523.0,1260.6 L527.0,1258.4 L531.0,1256.1 L535.0,1253.9 L539.0,1251.7 L543.0,1249.4 L547.0,1247.2 L551.0,1245.0 L555.0,1242.7 L559.0,1240.5 L563.0,1238.2 L567.0,1236.0 L571.0,1233.8 L575.0,1231.5 L579.0,1229.2 L583.0,1227.0 L587.0,1224.7 L591.0,1222.4 L595.0,1220.1 L599.0,1217.8 L603.0,1215.5 L607.0,1213.2 L611.0,1210.8 L615.0,1208.5 L619.0,1206.1 L623.0,1203.7 L627.0,1201.3 L631.0,1198.9 L635.0,1196.5 L639.0,1194.0 L643.0,1191.5 L647.0,1189.0 L651.0,1186.5 L655.0,1184.0 L659.0,1181.4 L663.0,1178.9 L667.0,1176.2 L671.0,1173.6 L675.0,1171.0 L679.0,1168.3 L683.0,1165.6 L687.0,1162.9 L691.0,1160.1 L695.0,1157.3 L699.0,1154.6 L703.0,1151.8 L707.0,1149.0 L711.0,1146.1 L715.0,1143.3 L719.0,1140.4 L723.0,1137.6 L727.0,1134.7 L731.0,1131.9 L735.0,1129.0 L739.0,1126.1 L743.0,1123.2 L747.0,1120.4 L751.0,1117.5 L755.0,1114.6 L759.0,1111.8 L763.0,1108.9 L767.0,1106.0 L771.0,1103.2 L775.0,1100.3 L779.0,1097.5 L783.0,1094.7 L787.0,1091.9 L791.0,1089.0 L795.0,1086.2 L799.0,1083.3 L803.0,1080.4 L807.0,1077.5 L811.0,1074.4 L815.0,1071.4 L819.0,1068.2 L823.0,1065.0 L827.0,1061.7 L831.0,1058.3 L835.0,1054.8 L839.0,1051.1 L843.0,1047.4 L847.0,1043.6 L851.0,1039.6 L855.0,1035.6 L859.0,1031.5 L863.0,1027.2 L867.0,1022.9 L871.0,1018.6 L875.0,1014.1 L879.0,1009.6 L883.0,1005.1 L887.0,1000.4 L891.0,995.8 L895.0,991.1 L899.0,986.4 L903.0,981.6 L907.0,976.9 L911.0,972.1 L915.0,967.3 L919.0,962.5 L923.0,957.7 L927.0,952.8 L931.0,948.0 L935.0,943.1 L939.0,938.3 L943.0,933.4 L947.0,928.5 L951.0,923.6 L955.0,918.7 L959.0,913.9 L963.0,909.0 L967.0,904.1 L971.0,899.1 L975.0,894.2 L979.0,889.3 L983.0,884.4 L987.0,879.5 L991.0,874.7 L995.0,869.8 L999.0,864.9 L1003.0,860.0 L1007.0,855.1 L1011.0,850.3 L1015.0,845.4 L1019.0,840.6 L1023.0,835.7 L1027.0,830.9 L1031.0,826.1 L1035.0,821.3 L1039.0,816.5 L1043.0,811.7 L1047.0,807.0 L1051.0,802.2 L1055.0,797.5 L1059.0,792.7 L1063.0,788.0 L1067.0,783.3 L1071.0,778.6 L1075.0,774.0 L1079.0,769.3 L1083.0,764.7 L1087.0,760.1 L1091.0,755.5 L1095.0,750.9 L1099.0,746.3 L1103.0,741.8 L1107.0,737.2 L1111.0,732.7 L1115.0,728.2 L1119.0,723.8 L1123.0,719.3 L1127.0,714.9 L1131.0,710.5 L1135.0,706.1 L1139.0,701.7 L1143.0,697.3 L1147.0,693.0 L1151.0,688.6 L1155.0,684.0 L1159.0,679.3 L1163.0,674.4 L1167.0,669.4 L1171.0,664.2 L1175.0,658.9 L1179.0,653.4 L1183.0,647.8 L1187.0,642.1 L1191.0,636.3 L1195.0,630.3 L1199.0,624.2 L1203.0,618.0 L1207.0,611.7 L1211.0,605.3 L1215.0,598.8 L1219.0,592.2 L1223.0,585.5 L1227.0,578.7 L1231.0,571.9 L1235.0,565.0 L1239.0,558.0 L1243.0,551.0 L1247.0,544.0 L1251.0,536.9 L1255.0,529.8 L1259.0,522.6 L1263.0,515.5 L1267.0,508.3 L1271.0,501.1 L1275.0,493.9 L1279.0,486.8 L1283.0,479.6 L1287.0,472.5 L1291.0,465.4 L1295.0,458.4 L1299.0,451.3 L1303.0,444.4 L1307.0,437.5 L1311.0,430.6 L1315.0,423.9 L1319.0,417.2 L1323.0,410.5 L1327.0,404.0 L1331.0,397.6 L1335.0,391.3 L1339.0,385.1 L1343.0,379.0 L1347.0,373.0 L1351.0,367.2 L1355.0,361.5 L1359.0,355.9 L1363.0,350.5 L1367.0,345.2 L1371.0,340.2 L1375.0,335.2 L1379.0,330.5 L1383.0,326.0 L1387.0,321.6 L1391.0,317.4 L1395.0,313.5 L1399.0,309.7 L1403.0,306.2 L1407.0,302.8 L1411.0,299.7 L1415.0,296.8 L1419.0,294.2 L1423.0,291.8 L1427.0,289.6 L1431.0,287.6 L1435.0,286.0 L1439.0,284.5 L1443.0,284.0 L1447.0,284.0 L1451.0,284.0 L1455.0,284.0 L1459.0,284.0 L1463.0,284.0 L1467.0,284.0 L1471.0,284.0 L1475.0,284.0 L1479.0,284.8 L1483.0,286.4 L1487.0,288.4 L1491.0,290.7 L1495.0,293.3 L1499.0,296.2 L1503.0,299.4 L1507.0,302.8 L1511.0,306.5 L1515.0,310.5 L1519.0,314.7 L1523.0,319.1 L1527.0,323.7 L1531.0,328.6 L1535.0,333.6 L1539.0,338.8 L1543.0,344.2 L1547.0,349.8 L1551.0,355.5 L1555.0,361.5 L1559.0,367.6 L1563.0,373.8 L1567.0,380.2 L1571.0,386.8 L1575.0,393.5 L1579.0,400.3 L1583.0,407.3 L1587.0,414.4 L1591.0,421.7 L1595.0,429.0 L1599.0,436.6 L1603.0,444.2 L1607.0,452.0 L1611.0,459.9 L1615.0,467.9 L1619.0,476.0 L1623.0,484.2 L1627.0,492.6 L1631.0,501.1 L1635.0,509.7 L1639.0,518.3 L1643.0,527.1 L1647.0,536.0 L1651.0,545.1 L1655.0,554.2 L1659.0,563.4 L1663.0,572.7 L1667.0,582.1 L1671.0,591.7 L1675.0,601.3 L1679.0,611.0 L1683.0,620.7 L1687.0,630.6 L1691.0,640.5 L1695.0,650.4 L1699.0,660.4 L1703.0,670.5 L1707.0,680.5 L1711.0,690.6 L1715.0,700.8 L1719.0,710.9 L1723.0,721.0 L1727.0,731.1 L1731.0,741.3 L1735.0,751.4 L1739.0,761.4 L1743.0,771.4 L1747.0,781.4 L1751.0,791.3 L1755.0,801.2 L1759.0,811.0 L1763.0,820.7 L1767.0,830.3 L1771.0,839.7 L1775.0,849.1 L1779.0,858.3 L1783.0,867.4 L1787.0,876.3 L1791.0,885.0 L1795.0,893.5 L1799.0,901.7 L1803.0,909.6 L1807.0,917.3 L1811.0,924.5 L1815.0,931.3 L1818.8,937.0" stroke="#527AFF" stroke-width="7.5"/>
</g>
<g stroke="#000" stroke-width="4.1" fill="none">
<path d="M243.75,1104.5H271.25M243.75,1145.25H271.25M257.5,1104.5V1145.25"/>
<path d="M300,815.75H324.25M300,897H324.25M312.5,815.75V897"/>
<path d="M352.5,970.25H380.5M352.5,1011.5H380.5M366.75,970.25V1011.5"/>
<path d="M406,1235H434M406,1288.75H434M420,1235V1288.75"/>
<path d="M461.5,1268H488.5M461.5,1309.25H488.5M475,1268V1309.25"/>
<path d="M582,880.75H608.25M582,937.75H608.25M595,880.75V937.75"/>
<path d="M633.75,245.75H662M633.75,278H662M647.5,245.75V278"/>
<path d="M687.5,758H713.75M687.5,792H713.75M700,758V792"/>
<path d="M743.75,962.75H767.5M743.75,1019.5H767.5M756.75,962.75V1019.5"/>
<path d="M796.75,1052H823.75M796.75,1092H823.75M810,1052V1092"/>
<path d="M918.75,335H942.5M918.75,404.75H942.5M932,335V404.75"/>
<path d="M972,737.25H998.75M972,807H998.75M985,737.25V807"/>
<path d="M1024.25,469.75H1052.5M1024.25,539.25H1052.5M1038,469.75V539.25"/>
<path d="M1077,253.75H1105.5M1077,323.25H1105.5M1091.25,253.75V323.25"/>
<path d="M1131.25,668.5H1157.5M1131.25,716.75H1157.5M1147.5,668.5V716.75"/>
<path d="M1252.5,786H1280M1252.5,815.75H1280M1266.25,786V815.75"/>
<path d="M1308.75,1084H1332.5M1308.75,1117H1332.5M1321.25,1084V1117"/>
<path d="M1362.5,865.25H1388.75M1362.5,897H1388.75M1376.25,865.25V897"/>
<path d="M1417,681H1442.5M1417,707H1442.5M1430,681V707"/>
<path d="M1467.5,245H1495M1467.5,330H1495M1481,245V330"/>
<path d="M1591.25,1052H1617.5M1591.25,1092H1617.5M1603.75,1052V1092"/>
<path d="M1642.5,1283.75H1671M1642.5,1345.5H1671M1657.5,1283.75V1345.5"/>
<path d="M1696.25,1100.75H1722.5M1696.25,1149.5H1722.5M1709.25,1100.75V1149.5"/>
<path d="M1752.5,1014.5H1776.25M1752.5,1072H1776.25M1765,1014.5V1072"/>
<path d="M1805,893.25H1832.5M1805,978.25H1832.5M1818.75,893.25V978.25"/>
</g>
<rect x="1603.9" y="59.4" width="268.2" height="352.0" fill="#fff" stroke="none"/>
<path d="M1607.3000000000002,408.0V62.8H1870.1" fill="none" stroke="#c6c6c6" stroke-width="3.2"/>
<path d="M1607.5,407.79999999999995H1870.1" fill="none" stroke="#d4d4d4" stroke-width="3"/>
<rect x="1605.9" y="127.0" width="134.2" height="8.1" fill="#cbcbcb"/>
<rect x="1605.9" y="196.4" width="134.2" height="8.0" fill="#cbcbcb"/>
<rect x="1605.9" y="265.1" width="134.2" height="9.1" fill="#cbcbcb"/>
<rect x="1605.9" y="334.9" width="134.2" height="7.9" fill="#cbcbcb"/>
<rect x="1612.6" y="67.5" width="124.4" height="57.9" rx="1.5" fill="#FFC794" stroke="#111" stroke-width="4.2" stroke-linejoin="round"/>
<rect x="1612.6" y="136.7" width="124.4" height="58.1" rx="1.5" fill="#80DC9A" stroke="#111" stroke-width="4.2" stroke-linejoin="round"/>
<rect x="1612.6" y="206.0" width="124.4" height="57.5" rx="1.5" fill="#C9B1D9" stroke="#111" stroke-width="4.2" stroke-linejoin="round"/>
<rect x="1612.6" y="275.8" width="124.4" height="57.5" rx="1.5" fill="#FFFF99" stroke="#111" stroke-width="4.2" stroke-linejoin="round"/>
<rect x="1612.6" y="344.40000000000003" width="124.4" height="57.5" rx="1.5" fill="#8FBDF6" stroke="#111" stroke-width="4.2" stroke-linejoin="round"/>
<rect x="1603.9" y="59.4" width="268.2" height="352.0" fill="none" stroke="#1a1a1a" stroke-width="4"/>
<g font-family="'Liberation Serif', 'DejaVu Serif', serif" font-size="63.5" fill="#111" stroke="#111" stroke-width="0.9" paint-order="stroke">
<text transform="translate(1751,113.8) scale(0.88,1)">940</text>
<text transform="translate(1751,183.1) scale(0.88,1)">980</text>
<text transform="translate(1751.6,252.4) scale(0.88,1)">1020</text>
<text transform="translate(1751.6,321.6) scale(0.88,1)">1100</text>
<text transform="translate(1751.6,390.8) scale(0.88,1)">1200</text>
</g>
<g stroke="#151515" stroke-width="4.6" fill="none" stroke-linecap="butt">
<path d="M173.75,45.9H1882.8"/>
<path d="M173.75,1393.75H1882.8" stroke-width="4.3"/>
<path d="M200.3,45.9V1408"/>
<path d="M1880.5,45.9V1408"/>
<path d="M173.75,1125H200.3"/>
<path d="M173.75,856.5H200.3"/>
<path d="M173.75,583.5H200.3"/>
<path d="M173.75,315H200.3"/>
<path d="M185.5,1259.75H200.3" stroke-width="3.8"/>
<path d="M185.5,991.25H200.3" stroke-width="3.8"/>
<path d="M185.5,721.75H200.3" stroke-width="3.8"/>
<path d="M185.5,449.25H200.3" stroke-width="3.8"/>
<path d="M185.5,180.3H200.3" stroke-width="3.8"/>
<path d="M366.5,1393.75V1420.5"/>
<path d="M700,1393.75V1420.5"/>
<path d="M1037.3,1393.75V1420.5"/>
<path d="M1375.75,1393.75V1420.5"/>
<path d="M1709.25,1393.75V1420.5"/>
<path d="M533.25,1393.75V1408" stroke-width="3.8"/>
<path d="M871,1393.75V1408" stroke-width="3.8"/>
<path d="M1204.8,1393.75V1408" stroke-width="3.8"/>
<path d="M1542.5,1393.75V1408" stroke-width="3.8"/>
</g>
<line x1="1876.2" y1="50" x2="1876.2" y2="413" stroke="#d2d2d2" stroke-width="3"/>
<g font-family="'Liberation Serif', 'DejaVu Serif', serif" font-size="63.2" fill="#1a1a1a" stroke="#1a1a1a" stroke-width="0.5" stroke-linejoin="round">
<text transform="translate(149.8,61) scale(0.9,1)" text-anchor="end">50</text>
<text transform="translate(149.8,329) scale(0.9,1)" text-anchor="end">40</text>
<text transform="translate(149.8,598.7) scale(0.9,1)" text-anchor="end">30</text>
<text transform="translate(149.8,871.7) scale(0.9,1)" text-anchor="end">20</text>
<text transform="translate(149.8,1140.3) scale(0.9,1)" text-anchor="end">10</text>
<text transform="translate(149.8,1413) scale(0.9,1)" text-anchor="end">0</text>
<text transform="translate(363,1483) scale(0.92,1)" text-anchor="middle">0.4</text>
<text transform="translate(699.4,1483) scale(0.92,1)" text-anchor="middle">0.7</text>
<text transform="translate(1037.5,1483) scale(0.92,1)" text-anchor="middle">1</text>
<text transform="translate(1374.4,1483) scale(0.92,1)" text-anchor="middle">1.3</text>
<text transform="translate(1711.9,1483) scale(0.92,1)" text-anchor="middle">1.6</text>
</g>
<g font-family="'Liberation Serif', 'DejaVu Serif', serif" font-size="68" fill="#1a1a1a" stroke="#1a1a1a" stroke-width="1.1" stroke-linejoin="round">
<text x="834.8" y="1555" dx="0 9.4 -5 -1.7 1.3 5.9 0 4.7 -4 -3.9 5.9 1.3 2.5 0.8">Block size(μm)</text>
<text transform="translate(64.3,928.5) rotate(-90)" stroke-width="0.3" dx="0.2 2.2 1.6 0.0 -1.2 0.0 -0.5 -0.5 0.5 7.8 0 0.1 0.1">Frequency (%)</text>
</g>
</g>
</svg>
</body>
</html>
